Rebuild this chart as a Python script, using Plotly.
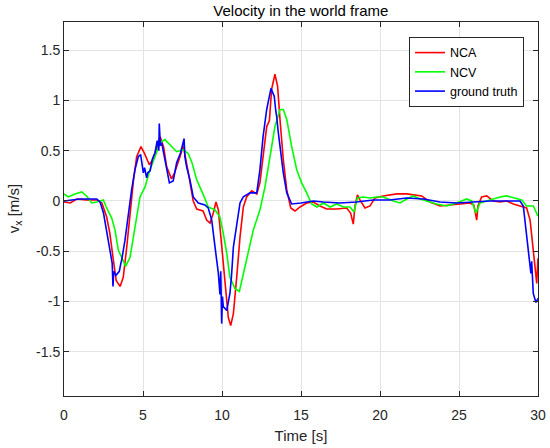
import plotly.graph_objects as go

# NCA estimate (red)
t_nca = [0, 0.4, 0.8, 1.4, 2.1, 2.4, 2.7, 2.9, 3.1, 3.3, 3.55, 3.75, 3.97, 4.18, 4.4, 4.6, 4.87, 5.1, 5.4, 5.65,
         6.08, 6.3, 6.5, 6.8, 7.0, 7.34, 7.55, 7.87, 8.18, 8.4, 8.8, 9.03, 9.24, 9.45, 9.62, 9.77, 9.98, 10.19,
         10.4, 10.55, 10.72, 10.93, 11.14, 11.35, 11.56, 11.88, 12.2, 12.4, 12.6, 12.83, 13.0, 13.14, 13.35,
         13.52, 13.67, 13.88, 14.1, 14.35, 14.62, 14.94, 15.36, 15.78, 16.2, 16.63, 17.26, 17.89, 18.14, 18.31,
         18.42, 18.57, 18.73, 19.05, 19.37, 19.68, 20.2, 21.06, 21.69, 22.32, 22.64, 23.16, 23.8, 24.43, 25.06,
         25.7, 25.94, 26.12, 26.2, 26.43, 26.75, 27.17, 27.6, 28.02, 28.44, 28.86, 29.28, 29.5, 29.7, 29.92, 30]
v_nca = [-0.01, -0.02, 0.02, 0.01, 0.01, -0.02, -0.16, -0.32, -0.56, -0.79, -0.85, -0.76, -0.46, -0.12, 0.21,
         0.44, 0.54, 0.47, 0.36, 0.42, 0.64, 0.54, 0.34, 0.22, 0.28, 0.44, 0.55, 0.28, 0.0, -0.08, -0.1, -0.19,
         -0.22, -0.12, -0.01, -0.09, -0.46, -0.86, -1.16, -1.24, -1.12, -0.76, -0.36, -0.06, 0.04, 0.1, 0.07,
         0.18, 0.44, 0.74, 0.8, 1.11, 1.26, 1.14, 0.81, 0.41, 0.11, -0.07, -0.1, -0.06, -0.02, -0.01, -0.05,
         -0.08, -0.08, -0.07, -0.12, -0.23, -0.05, 0.06, 0.01, -0.07, -0.05, 0.03, 0.05, 0.07, 0.07, 0.06, 0.05,
         -0.01, -0.05, -0.04, -0.03, -0.02, -0.04, -0.19, -0.05, 0.04, 0.05, 0.0, -0.01, 0.0, -0.03, -0.05,
         -0.07, -0.19, -0.46, -0.82, -0.57]

# NCV estimate (green)
t_ncv = [0, 0.27, 0.7, 1.12, 1.43, 1.75, 2.07, 2.49, 2.7, 3.02, 3.23, 3.44, 3.65, 3.9, 4.18, 4.39, 4.6, 4.81,
         5.13, 5.44, 5.76, 6.08, 6.39, 6.71, 7.13, 7.55, 7.87, 8.1, 8.4, 8.82, 9.13, 9.56, 9.87, 10.08, 10.3,
         10.5, 10.82, 11.1, 11.35, 11.67, 11.98, 12.4, 12.72, 13.04, 13.35, 13.67, 13.88, 14.1, 14.41, 14.73,
         15.04, 15.36, 15.68, 16.0, 16.42, 16.84, 17.26, 17.68, 18.1, 18.35, 18.57, 18.94, 19.37, 19.79, 20.2,
         20.84, 21.27, 21.69, 22.1, 22.53, 22.95, 23.58, 24.22, 24.85, 25.49, 25.8, 26.08, 26.33, 26.75, 27.17,
         27.6, 28.02, 28.44, 28.97, 29.28, 29.7, 30]
v_ncv = [0.07, 0.04, 0.07, 0.09, 0.05, -0.02, -0.01, 0.01, -0.07, -0.17, -0.29, -0.49, -0.56, -0.65, -0.56,
         -0.36, -0.12, 0.04, 0.14, 0.31, 0.44, 0.58, 0.61, 0.56, 0.49, 0.51, 0.47, 0.38, 0.21, 0.06, -0.06,
         -0.09, -0.16, -0.32, -0.52, -0.76, -0.87, -0.9, -0.72, -0.49, -0.29, -0.09, 0.14, 0.44, 0.74, 0.91,
         0.91, 0.81, 0.54, 0.31, 0.18, 0.08, -0.03, -0.06, -0.02, -0.06, -0.03, -0.06, -0.06, -0.11, 0.03, 0.04,
         0.03, 0.04, 0.04, 0.0, -0.02, 0.02, 0.05, 0.02, 0.0, -0.03, -0.05, -0.02, 0.02, 0.0, -0.12, -0.02, 0.0,
         0.02, 0.04, 0.05, 0.03, 0.01, -0.05, -0.05, -0.15]

# ground truth (blue)
t_gt = [0, 1.0, 2.07, 2.28, 2.5, 2.7, 2.9, 3.05, 3.1, 3.15, 3.29, 3.5, 3.6, 3.65, 3.86, 4.07, 4.28, 4.49, 4.7,
        4.85, 4.95, 5.02, 5.1, 5.23, 5.3, 5.45, 5.6, 5.76, 5.9, 6.0, 6.03, 6.1, 6.18, 6.39, 6.67, 6.91, 7.13,
        7.38, 7.5, 7.6, 7.65, 7.76, 7.97, 8.18, 8.5, 8.92, 9.13, 9.35, 9.56, 9.77, 9.87, 9.92, 9.98, 10.03,
        10.08, 10.3, 10.5, 10.6, 10.72, 10.93, 11.14, 11.35, 11.77, 12.2, 12.4, 12.6, 12.83, 13.1, 13.31, 13.4,
        13.46, 13.55, 13.67, 13.88, 14.1, 14.41, 15.0, 15.78, 16.4, 17.47, 18.5, 19.58, 20.6, 21.69, 22.75,
        23.8, 24.85, 25.9, 26.96, 28.0, 28.86, 29.07, 29.28, 29.45, 29.55, 29.6, 29.7, 29.87, 30]
v_gt = [0.0, 0.02, 0.02, -0.01, -0.12, -0.29, -0.46, -0.62, -0.85, -0.7, -0.74, -0.7, -0.62, -0.59, -0.39,
        -0.13, 0.11, 0.31, 0.44, 0.46, 0.36, 0.28, 0.33, 0.23, 0.28, 0.3, 0.42, 0.48, 0.6, 0.5, 0.77, 0.55,
        0.58, 0.41, 0.18, 0.2, 0.38, 0.48, 0.55, 0.62, 0.44, 0.34, 0.21, 0.04, -0.02, -0.04, -0.07, -0.19,
        -0.46, -0.72, -0.93, -0.7, -1.22, -0.95, -1.05, -1.09, -0.92, -0.75, -0.46, -0.22, -0.02, 0.04, 0.08,
        0.08, 0.31, 0.64, 0.91, 1.12, 1.04, 0.9, 0.84, 0.7, 0.54, 0.28, 0.08, -0.03, -0.02, 0.0, -0.01, -0.02,
        -0.01, 0.01, 0.01, 0.03, 0.02, -0.01, -0.02, -0.01, 0.0, 0.0, 0.0, -0.05, -0.32, -0.55, -0.72, -0.6,
        -0.92, -1.01, -0.97]

x_ticks = [0, 5, 10, 15, 20, 25, 30]
y_ticks = [-1.5, -1, -0.5, 0, 0.5, 1, 1.5]
y_ticklabels = ["-1.5", "-1", "-0.5", "0", "0.5", "1", "1.5"]

axcol = "#262626"
fnt = "Liberation Sans, Arial, sans-serif"

fig = go.Figure()
fig.add_trace(go.Scatter(x=t_nca, y=v_nca, mode="lines", name="NCA",
                         line=dict(color="#ff0000", width=1.6)))
fig.add_trace(go.Scatter(x=t_ncv, y=v_ncv, mode="lines", name="NCV",
                         line=dict(color="#00ff00", width=1.6)))
fig.add_trace(go.Scatter(x=t_gt, y=v_gt, mode="lines", name="ground truth",
                         line=dict(color="#0000ff", width=1.6)))

axis_common = dict(showline=True, linecolor=axcol, linewidth=1, mirror="ticks",
                   ticks="inside", ticklen=5, tickcolor=axcol, automargin=False,
                   showgrid=True, gridcolor="#e3e3e3", gridwidth=1, zeroline=False,
                   tickfont=dict(family=fnt, size=14, color=axcol))

fig.update_layout(
    width=550, height=448,
    margin=dict(l=64, r=12, t=22, b=52),
    paper_bgcolor="white", plot_bgcolor="white",
    font=dict(family=fnt, size=14, color=axcol),
    title=dict(text="Velocity in the world frame", x=0.547, xanchor="center",
               yref="container", y=0.976, yanchor="middle",
               font=dict(family=fnt, size=15, color="#000000")),
    xaxis=dict(range=[0, 30], tickvals=x_ticks, ticklabelstandoff=6,
               title=dict(text="Time [s]", standoff=8, font=dict(family=fnt, size=15, color=axcol)),
               **axis_common),
    yaxis=dict(range=[-1.94, 1.78], tickvals=y_ticks, ticktext=y_ticklabels, **axis_common),
    legend=dict(x=0.9705, xanchor="right", y=0.96, yanchor="top",
                bgcolor="white", bordercolor=axcol, borderwidth=1, itemwidth=30,
                font=dict(family=fnt, size=12.5, color="#000000"), tracegroupgap=0),
    showlegend=True,
)

# y label placed as a rotated annotation so it can sit as far left as in the original
fig.add_annotation(text="v<sub>x</sub> [m/s]", xref="paper", yref="paper", x=-0.105, y=0.5,
                   xanchor="center", yanchor="middle", textangle=-90, showarrow=False,
                   font=dict(family=fnt, size=15, color=axcol))

# drop the browser's default 8px body margin so the 550x448 figure fills the window
fig.write_html("out.html", config={"displayModeBar": False},
               post_script="document.body.style.margin = '0';")
